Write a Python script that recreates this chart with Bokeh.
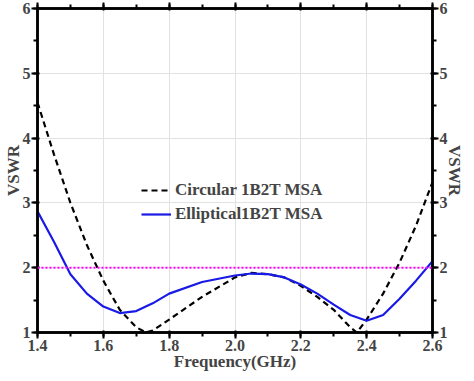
from bokeh.plotting import figure
from bokeh.models import (LinearAxis, Range1d, Legend, LegendItem, SingleIntervalTicker,
                          FixedTicker, Span, Grid, NumeralTickFormatter, CustomJSTickFormatter)
from bokeh.embed import file_html
from bokeh.resources import INLINE

freq = [1.40, 1.45, 1.50, 1.55, 1.60, 1.65, 1.70, 1.73, 1.75, 1.80, 1.90, 2.00, 2.05, 2.10,
        2.15, 2.20, 2.25, 2.30, 2.35, 2.37, 2.40, 2.45, 2.50, 2.55, 2.60]
circular = [4.55, 3.75, 3.00, 2.35, 1.80, 1.35, 1.08, 1.00, 1.03, 1.20, 1.55, 1.85, 1.92, 1.90,
            1.85, 1.72, 1.55, 1.35, 1.08, 1.00, 1.20, 1.60, 2.08, 2.65, 3.32]
freq_e = [1.40, 1.45, 1.50, 1.55, 1.60, 1.65, 1.70, 1.75, 1.80, 1.90, 2.00, 2.05, 2.10,
          2.15, 2.20, 2.25, 2.30, 2.35, 2.40, 2.45, 2.50, 2.55, 2.60]
elliptical = [2.87, 2.40, 1.90, 1.60, 1.40, 1.30, 1.33, 1.45, 1.60, 1.78, 1.88, 1.91, 1.90,
              1.85, 1.74, 1.60, 1.43, 1.27, 1.18, 1.27, 1.52, 1.80, 2.10]
threshold = 2.0
x_grid = [1.6, 1.8, 2.0, 2.2, 2.4]
y_grid = [2, 3, 4, 5]
series_names = ["Circular 1B2T MSA", "Elliptical1B2T MSA"]

FONT = "Liberation Serif"

p = figure(width=466, height=373, output_backend="svg", toolbar_location=None,
           x_range=Range1d(1.4, 2.6), y_range=Range1d(1, 6),
           min_border_left=8, min_border_right=4, min_border_top=8, min_border_bottom=4)
p.outline_line_color = "black"
p.outline_line_width = 2.5
p.xgrid.grid_line_color = None
p.ygrid.grid_line_color = None


def style_axis(ax, interval, label_text=None, label_standoff=-3):
    ax.ticker = SingleIntervalTicker(interval=interval, num_minor_ticks=2)
    ax.axis_line_width = 2.5
    ax.major_tick_line_width = 2
    ax.minor_tick_line_width = 2
    ax.major_label_text_font = FONT
    ax.major_label_text_font_style = "bold"
    ax.major_label_text_font_size = "16px"
    ax.major_label_standoff = 1
    if label_text:
        ax.axis_label = label_text
        ax.axis_label_text_font = FONT
        ax.axis_label_text_font_style = "bold"
        ax.axis_label_text_font_size = "17px"
        ax.axis_label_standoff = label_standoff


xb = p.xaxis[0]
style_axis(xb, 0.2, label_text="Frequency(GHz)", label_standoff=-2)
xb.formatter = NumeralTickFormatter(format="0.0")
yl = p.yaxis[0]
style_axis(yl, 1, label_text="VSWR", label_standoff=-3)

xt = LinearAxis()
style_axis(xt, 0.2)
xt.formatter = CustomJSTickFormatter(code="return '';")
p.add_layout(xt, "above")
yr = LinearAxis()
style_axis(yr, 1, label_text="VSWR", label_standoff=-6)
p.add_layout(yr, "right")

p.add_layout(Grid(dimension=0, ticker=FixedTicker(ticks=x_grid),
                  grid_line_color="#e2e2e2", grid_line_width=1))
p.add_layout(Grid(dimension=1, ticker=FixedTicker(ticks=y_grid),
                  grid_line_color="#e2e2e2", grid_line_width=1))

p.add_layout(Span(location=threshold, dimension="width", line_color="#ff00ff",
                  line_dash="2 2", line_width=2))

r1 = p.line(freq, circular, line_color="black", line_width=2.2, line_dash="6 4")
r2 = p.line(freq_e, elliptical, line_color="#1a1ae6", line_width=2.2)

legend = Legend(items=[LegendItem(label=series_names[0], renderers=[r1]),
                       LegendItem(label=series_names[1], renderers=[r2])],
                location=(104, 108), orientation="vertical")
legend.border_line_color = None
legend.background_fill_color = None
legend.label_text_font = FONT
legend.label_text_font_style = "bold"
legend.label_text_font_size = "17px"
legend.glyph_width = 30
legend.glyph_height = 20
legend.label_standoff = 4
legend.spacing = 4
legend.padding = 4
legend.margin = 0
p.add_layout(legend, "center")

open("out.html", "w").write(file_html(p, INLINE))
